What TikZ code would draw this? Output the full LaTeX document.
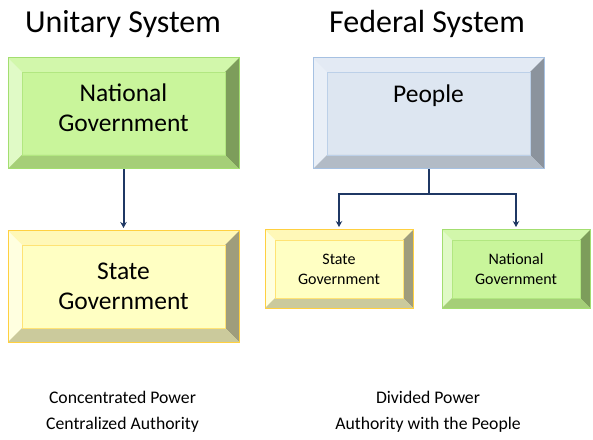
\documentclass[tikz,border=0pt]{standalone}
\usepackage{fontspec}
\setmainfont{Carlito}
\usetikzlibrary{arrows.meta,positioning}

\definecolor{grnface}{HTML}{C9F59B}
\definecolor{grntop}{HTML}{D2F7AB}
\definecolor{grnleft}{HTML}{E0FAC6}
\definecolor{grnbot}{HTML}{A5CF78}
\definecolor{grnright}{HTML}{7D9D5B}
\definecolor{grnline}{HTML}{A3DE70}
\definecolor{bluface}{HTML}{DDE6F1}
\definecolor{blutop}{HTML}{E3EAF4}
\definecolor{bluleft}{HTML}{E9EFF7}
\definecolor{blubot}{HTML}{B2BBC6}
\definecolor{bluright}{HTML}{8B939D}
\definecolor{bluline}{HTML}{A6C1E2}
\definecolor{yelface}{HTML}{FFFFC3}
\definecolor{yeltop}{HTML}{FFF8B8}
\definecolor{yelleft}{HTML}{FFFFE0}
\definecolor{yelbot}{HTML}{CBCA9C}
\definecolor{yelright}{HTML}{9F9D7C}
\definecolor{yelline}{HTML}{FFD040}
\definecolor{arrowblue}{HTML}{1F3864}

\newcommand{\bw}{14}

\begin{document}
\begin{tikzpicture}[x=1pt,y=1pt,
	bevel width/.store in=\bw,
	bevel/.style={draw=#1line,fill=#1face,line width=1pt,inner sep=0pt,align=center,
		path picture={
			\fill[#1top] (path picture bounding box.north west) -- (path picture bounding box.north east) -- ++(-\bw,-\bw) -- ([shift={(\bw,-\bw)}]path picture bounding box.north west) -- cycle;
			\fill[#1left] (path picture bounding box.north west) -- ++(\bw,-\bw) -- ([shift={(\bw,\bw)}]path picture bounding box.south west) -- (path picture bounding box.south west) -- cycle;
			\fill[#1right] (path picture bounding box.north east) -- (path picture bounding box.south east) -- ++(-\bw,\bw) -- ([shift={(-\bw,-\bw)}]path picture bounding box.north east) -- cycle;
			\fill[#1bot] (path picture bounding box.south west) -- (path picture bounding box.south east) -- ++(-\bw,\bw) -- ([shift={(\bw,\bw)}]path picture bounding box.south west) -- cycle;
			\draw[#1line!60!#1face,line width=0.4pt] ([shift={(\bw,-\bw)}]path picture bounding box.north west) rectangle ([shift={(-\bw,\bw)}]path picture bounding box.south east);
		}},
	big box/.style={bevel=#1,bevel width=14,minimum width=231pt,minimum height=111pt,font=\fontsize{25.5}{30}\selectfont},
	small box/.style={bevel=#1,bevel width=10,minimum width=148pt,minimum height=78pt,font=\fontsize{16}{20}\selectfont},
	title/.style={anchor=base,font=\fontsize{32}{38}\selectfont},
	note/.style={anchor=base,font=\fontsize{17.7}{22}\selectfont},
	conn/.style={-{Stealth[length=6pt,width=6.5pt]},draw=arrowblue,line width=2pt,shorten >=2.5pt}]

	\useasboundingbox (0,0) rectangle (593,439);

	% titles
	\node[title] (unitary) at (123,406) {Unitary System};
	\node[title] (federal) at (427,406) {Federal System};

	% unitary system
	\node[big box=grn,text depth=11pt] (nat1) at (123.5,325.5) {National\\Government};
	\node[big box=yel] (st1) [below=61pt of nat1] {State\\Government};

	% federal system
	\node[big box=blu,text depth=40pt] (ppl) [right=73pt of nat1] {People};
	\node[small box=yel] (st2) at (339,170) {State\\Government};
	\node[small box=grn] (nat2) [right=28pt of st2] {National\\Government};

	\coordinate (split) at ([yshift=-25pt]ppl.south);

	\draw[conn] (nat1) -- (st1);
	\draw[draw=arrowblue,line width=2pt] (ppl) -- (split);
	\draw[conn] (split) -| (st2);
	\draw[conn] (split) -| (nat2);

	% notes
	\node[note] (conc) at (122.5,36) {Concentrated Power};
	\node[note] (cent) at (122.5,10) {Centralized Authority};
	\node[note] (div) at (428,36) {Divided Power};
	\node[note] (auth) at (428,10) {Authority with the People};

\end{tikzpicture}
\end{document}
